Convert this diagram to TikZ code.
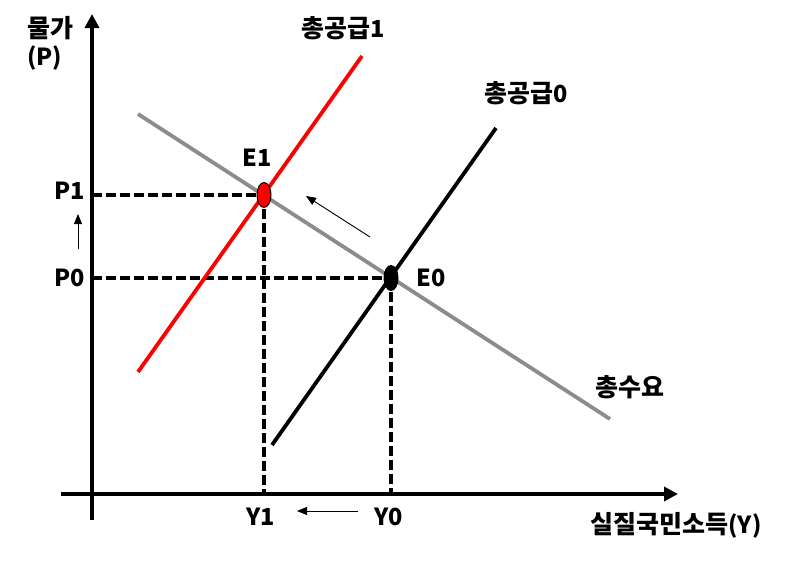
\documentclass[tikz,border=0pt]{standalone}
\usepackage{fontspec}
\setmainfont{Noto Sans CJK KR}
\usetikzlibrary{arrows.meta,shapes.geometric}
\newcommand{\krs}{\fontsize{25}{27}\selectfont}
\begin{document}
\begin{tikzpicture}[x=1pt,y=-1pt,
  lbl/.style={font=\fontsize{23.5}{25}\selectfont\bfseries, inner sep=0pt},
  axis/.style={line width=4.8pt, -{Triangle[length=14pt,width=14pt]}},
  curve/.style={line width=3.8pt},
  guide/.style={line width=4pt, dash pattern=on 9.5pt off 4.5pt},
  move/.style={line width=0.9pt, -{Triangle[length=10pt,width=8pt]}},
  eq/.style={ellipse, draw=black, line width=1pt, minimum width=14pt, minimum height=25pt, inner sep=0pt}]
\useasboundingbox (0,0) rectangle (800,565);
% axis ends
\coordinate (yb) at (92,520);
\coordinate (yt) at (92,14);
\coordinate (xl) at (61,494);
\coordinate (xr) at (678,494);
% curve ends
\coordinate (ad1) at (138,114);
\coordinate (ad2) at (610,419);
\coordinate (as11) at (138,372);
\coordinate (as12) at (362,56);
\coordinate (as01) at (272,445);
\coordinate (as02) at (496,128);
% feet of guides
\coordinate (p1a) at (92,195);
\coordinate (p0a) at (92,278);
\coordinate (y1a) at (264,494);
\coordinate (y0a) at (391,494);
% arrows
\coordinate (m1s) at (370,237);
\coordinate (m1e) at (306,196);
\coordinate (m2s) at (78,249);
\coordinate (m2e) at (78,214);
\coordinate (m3s) at (358,511);
\coordinate (m3e) at (297,511);

% guides
\draw[guide] (p1a) -- (264,195);
\draw[guide] (264,195) -- (y1a);
\draw[guide] (p0a) -- (391,278);
\draw[guide] (391,278) -- (y0a);

% axes
\draw[axis] (yb) -- (yt);
\draw[axis] (xl) -- (xr);

% curves
\draw[curve, gray!90] (ad1) -- (ad2);
\draw[curve, red] (as11) -- (as12);
\draw[curve, black] (as01) -- (as02);

% equilibria
\node[eq, fill=red] (E1) at (264,195) {};
\node[eq, fill=black] (E0) at (391,278) {};

% movement arrows
\draw[move] (m1s) -- (m1e);
\draw[move] (m2s) -- (m2e);
\draw[move] (m3s) -- (m3e);

% labels
\node[lbl, anchor=west] (lp) at (27,28) {\krs 물가};
\node[lbl, anchor=west] (lpp) at (27,58) {(P)};
\node[lbl] (ls1) at (343,28) {{\krs 총공급}1};
\node[lbl] (ls0) at (526,93) {{\krs 총공급}0};
\node[lbl] (le1) at (257,158) {E1};
\node[lbl] (le0) at (431,278) {E0};
\node[lbl] (ld) at (630,387) {\krs 총수요};
\node[lbl] (lp1) at (70,191) {P1};
\node[lbl] (lp0) at (70,278) {P0};
\node[lbl] (ly1) at (261,517) {Y1};
\node[lbl] (ly0) at (389,517) {Y0};
\node[lbl] (lx) at (676,525) {{\krs 실질국민소득}(Y)};
\end{tikzpicture}
\end{document}
